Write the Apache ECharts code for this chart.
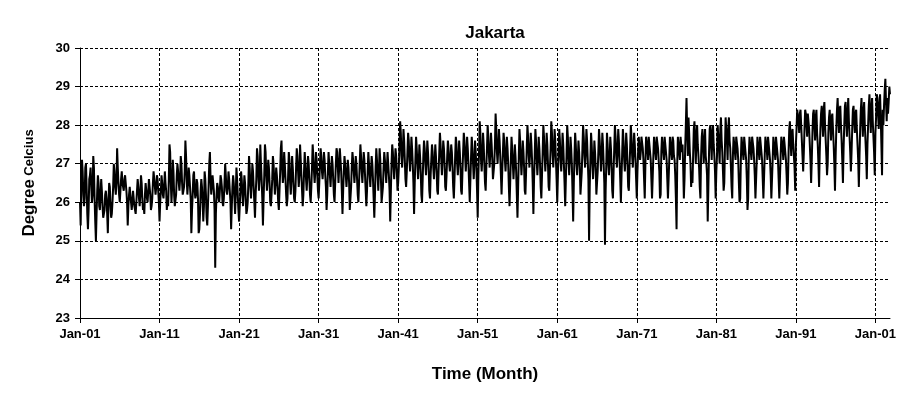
<!DOCTYPE html>
<html>
<head>
<meta charset="utf-8">
<script src="https://cdn.jsdelivr.net/npm/echarts@6/dist/echarts.min.js"></script>
<style>html,body{margin:0;padding:0;background:#fff}#chart{width:914px;height:410px}</style>
</head>
<body>
<div id="chart"></div>
<script>
// 月平均气温 (°C), 1901年1月 起, 每行一年
var temps = [
26.0,25.4,26.5,27.1,26.8,26.2,25.9,26.1,26.9,27.0,26.4,25.7,
25.3,25.8,26.6,26.7,26.9,26.4,26.0,26.2,27.2,26.9,26.1,25.5,
25.0,25.7,26.3,26.7,26.5,25.9,25.8,26.2,26.6,26.3,25.9,25.6,
25.6,25.8,26.2,26.3,26.1,25.7,25.2,26.0,26.5,26.4,25.9,25.6,
25.7,26.0,26.4,27.0,26.8,26.4,26.2,26.5,27.4,26.9,26.5,26.2,
26.0,26.3,26.6,26.8,26.5,26.4,26.3,26.6,26.7,26.5,26.3,26.0,
25.4,25.9,26.2,26.4,26.2,26.0,25.8,26.0,26.3,26.1,25.9,25.9,
25.7,26.0,26.3,26.6,26.4,26.1,25.9,26.2,26.7,26.5,26.1,25.8,
25.9,25.7,26.2,26.5,26.3,26.1,26.0,26.3,26.6,26.4,26.2,25.8,
25.9,26.1,26.5,26.8,26.6,26.4,26.2,26.4,26.7,26.6,26.3,26.0,
25.5,26.0,26.3,26.7,26.5,26.2,26.1,26.4,26.8,26.5,26.3,25.8,
26.1,25.9,26.6,27.5,27.3,26.5,26.0,26.4,27.1,26.8,26.2,25.9,
25.9,26.2,26.7,27.0,26.8,26.5,26.3,26.6,27.2,27.0,26.5,26.2,
26.3,26.4,26.8,27.6,27.2,26.6,26.2,26.5,26.9,26.7,26.4,26.1,
25.2,25.8,26.2,26.7,26.8,26.3,26.1,26.2,26.6,26.5,26.1,25.2,
25.3,25.7,26.3,26.6,26.4,26.0,25.5,25.9,26.8,26.6,26.2,25.6,
25.4,25.9,26.4,27.0,27.3,26.6,26.2,26.4,26.7,26.5,26.3,25.8,
24.3,25.7,26.2,26.5,26.4,26.1,26.0,26.3,26.7,26.6,26.4,26.0,
25.9,26.1,26.5,27.0,26.7,26.3,26.2,26.4,26.8,26.6,26.3,26.0,
25.3,25.9,26.4,26.7,26.5,26.1,25.7,26.2,26.9,26.6,26.2,25.8,
25.5,25.9,26.3,26.8,26.6,26.2,25.9,26.3,26.7,26.5,26.1,25.7,
25.8,26.0,26.5,27.2,26.9,26.4,26.1,26.5,27.0,26.8,26.4,26.0,
25.6,26.2,26.6,27.4,27.2,26.7,26.3,26.6,27.5,27.0,26.6,26.1,
25.4,26.1,26.7,27.5,27.3,26.7,26.3,26.6,27.1,26.9,26.5,26.0,
25.9,26.2,26.6,27.2,27.0,26.6,26.2,26.5,26.9,26.7,26.4,26.0,
25.8,26.3,26.8,27.4,27.6,26.9,26.5,26.7,27.3,27.0,26.6,26.2,
25.9,26.1,26.7,27.3,27.1,26.5,26.2,26.6,27.2,26.9,26.5,26.1,
26.0,26.3,26.9,27.4,27.2,26.8,26.4,26.7,27.5,27.1,26.7,26.3,
25.9,26.2,26.8,27.3,27.0,26.6,26.3,26.7,27.2,27.0,26.6,26.2,
26.0,26.4,26.9,27.5,27.2,26.8,26.5,26.8,27.3,27.1,26.7,26.3,
26.1,26.5,27.0,27.4,27.2,26.8,26.6,26.9,27.3,27.1,26.7,26.4,
25.8,26.2,26.8,27.3,27.0,26.7,26.4,26.8,27.2,27.0,26.6,26.2,
26.0,26.5,27.0,27.4,27.3,26.9,26.5,26.9,27.4,27.1,26.8,26.3,
25.7,26.3,26.8,27.2,27.0,26.7,26.4,26.7,27.1,26.9,26.5,25.8,
26.1,26.4,26.9,27.3,27.1,26.8,26.5,26.8,27.2,27.0,26.6,26.2,
26.0,26.5,27.0,27.5,27.2,26.8,26.5,26.9,27.3,27.1,26.7,26.3,
25.9,26.3,26.8,27.3,27.0,26.7,26.4,26.8,27.2,27.0,26.6,26.1,
25.6,26.2,26.9,27.4,27.1,26.7,26.3,26.8,27.4,27.1,26.6,26.0,
26.0,26.4,26.9,27.3,27.1,26.8,26.5,26.9,27.3,27.0,26.7,26.3,
25.5,26.3,27.0,27.5,27.3,26.9,26.6,27.0,27.4,27.2,26.8,26.3,
26.5,26.9,27.5,28.1,27.8,27.2,26.9,27.3,27.9,27.6,27.1,26.6,
26.4,26.8,27.3,27.8,27.6,27.1,26.8,27.2,27.7,27.4,27.0,26.5,
25.7,26.5,27.1,27.7,27.4,27.0,26.6,27.0,27.5,27.2,26.8,26.2,
26.0,26.6,27.2,27.6,27.4,27.0,26.7,27.1,27.6,27.3,26.9,26.3,
26.1,26.7,27.1,27.5,27.3,26.9,26.6,27.0,27.5,27.2,26.8,26.3,
26.2,26.8,27.3,27.8,27.5,27.1,26.7,27.1,27.6,27.4,27.0,26.4,
26.3,26.7,27.2,27.6,27.4,27.0,26.8,27.1,27.5,27.3,26.9,26.4,
26.1,26.6,27.2,27.7,27.5,27.0,26.7,27.1,27.6,27.3,26.9,26.3,
26.2,26.8,27.3,27.8,27.6,27.2,26.8,27.2,27.7,27.4,27.0,26.5,
26.0,26.6,27.2,27.7,27.4,27.0,26.6,27.0,27.6,27.3,26.9,26.3,
25.6,26.7,27.3,28.1,27.8,27.1,26.8,27.2,27.8,27.5,27.0,26.5,
26.3,26.9,27.4,28.0,27.7,27.2,26.9,27.3,27.8,27.5,27.1,26.6,
26.6,27.0,27.5,28.3,27.9,27.3,27.0,27.4,27.9,27.6,27.2,26.7,
26.2,26.8,27.3,27.8,27.6,27.1,26.8,27.2,27.7,27.4,27.0,26.4,
25.9,26.5,27.1,27.7,27.4,27.0,26.6,27.0,27.5,27.2,26.8,26.2,
25.6,26.4,27.2,27.9,27.6,27.1,26.7,27.1,27.6,27.3,26.9,26.3,
26.2,26.8,27.4,28.0,27.7,27.2,26.9,27.3,27.8,27.5,27.1,26.5,
25.7,26.6,27.2,27.9,27.6,27.1,26.7,27.1,27.7,27.4,27.0,26.4,
26.1,26.7,27.3,28.0,27.7,27.2,26.8,27.2,27.8,27.5,27.0,26.4,
26.3,26.9,27.4,28.1,27.8,27.3,26.9,27.3,27.9,27.6,27.1,26.6,
26.0,26.7,27.3,27.9,27.6,27.1,26.8,27.2,27.8,27.5,27.0,26.5,
25.9,26.6,27.2,28.0,27.7,27.1,26.7,27.1,27.7,27.4,27.0,26.3,
25.5,26.5,27.2,27.8,27.5,27.0,26.7,27.1,27.6,27.3,26.9,26.2,
26.2,26.8,27.4,28.0,27.7,27.2,26.9,27.3,27.9,27.6,27.1,26.6,
25.0,26.4,27.1,27.8,27.5,27.0,26.6,27.0,27.6,27.3,26.9,26.2,
26.2,26.8,27.3,27.9,27.6,27.2,26.8,27.2,27.8,27.5,27.0,26.5,
24.9,26.3,27.0,27.8,27.5,27.0,26.7,27.1,27.7,27.4,26.9,26.3,
26.1,26.8,27.4,28.0,27.7,27.2,26.9,27.3,27.9,27.6,27.1,26.6,
26.0,26.7,27.3,27.9,27.6,27.1,26.8,27.2,27.8,27.5,27.0,26.4,
26.3,26.9,27.4,28.0,27.7,27.2,26.9,27.3,27.8,27.5,27.1,26.6,
26.1,26.8,27.3,27.7,27.7,27.1,27.3,27.7,27.7,27.4,27.1,26.6,
26.1,27.0,27.7,27.7,27.4,27.1,27.7,27.7,27.3,27.1,26.6,26.1,
26.1,27.2,27.7,27.7,27.3,27.1,27.7,27.7,27.4,27.1,26.8,26.1,
26.2,27.3,27.7,27.7,27.3,27.1,27.7,27.7,27.3,27.1,26.6,26.1,
26.1,27.1,27.7,27.5,27.3,27.1,27.7,27.6,27.2,27.1,26.7,26.1,
25.3,27.0,27.7,27.7,27.3,27.1,27.7,27.7,27.3,27.5,26.9,26.1,
26.6,27.4,28.0,28.7,27.9,27.2,28.2,27.8,27.3,27.0,26.4,26.8,
26.5,27.2,27.9,28.1,27.6,27.0,27.7,28.0,27.5,27.2,26.9,26.4,
26.1,27.2,27.7,27.9,27.4,27.0,27.6,27.9,27.2,27.0,26.7,25.5,
26.4,27.3,27.9,28.0,27.5,27.1,27.8,28.0,27.5,27.2,26.8,26.1,
26.8,27.2,28.0,27.7,27.4,27.0,27.9,28.2,27.6,27.3,26.8,26.3,
26.5,27.4,28.2,27.9,27.6,27.1,27.9,28.2,27.6,27.4,26.9,26.4,
26.1,27.2,27.7,27.7,27.3,27.1,27.7,27.7,27.4,27.1,26.5,26.0,
26.1,27.1,27.7,27.7,27.3,27.1,27.7,27.7,27.3,27.1,26.6,25.8,
26.1,27.2,27.7,27.7,27.3,27.1,27.7,27.7,27.4,27.1,26.7,26.1,
26.1,27.1,27.7,27.7,27.3,27.1,27.7,27.7,27.3,27.1,26.6,26.1,
26.1,27.2,27.7,27.7,27.4,27.1,27.7,27.7,27.3,27.1,26.7,26.1,
26.1,27.1,27.7,27.7,27.3,27.1,27.7,27.7,27.3,27.1,26.6,26.1,
26.1,27.2,27.7,27.7,27.4,27.1,27.7,27.7,27.3,27.1,26.7,26.2,
26.5,27.3,27.9,28.1,27.6,27.2,27.8,27.9,27.5,27.2,26.9,26.3,
27.5,27.9,28.4,28.4,28.1,27.8,28.3,28.4,28.0,27.6,27.2,26.8,
27.3,27.9,28.4,28.3,28.0,27.7,28.3,28.3,27.9,27.5,27.1,26.5,
27.1,27.8,28.3,28.4,28.0,27.6,28.2,28.4,27.8,27.5,27.0,26.4,
27.3,27.9,28.3,28.5,28.1,27.7,28.4,28.6,28.0,27.6,27.2,26.7,
27.0,27.8,28.2,28.4,28.0,27.6,28.2,28.3,27.9,27.5,27.0,26.3,
27.2,27.9,28.4,28.7,28.2,27.8,28.4,28.5,28.0,27.6,27.1,26.5,
27.4,28.0,28.5,28.6,28.1,27.7,28.3,28.7,28.1,27.7,27.3,26.8,
27.3,27.9,28.4,28.5,28.1,27.8,28.3,28.4,27.9,27.5,27.1,26.4,
27.2,27.9,28.4,28.7,28.2,27.7,28.3,28.6,28.0,27.6,27.2,26.6,
27.5,28.0,28.5,28.8,28.3,27.8,28.4,28.7,28.1,27.7,27.3,26.7,
27.8,28.2,28.8,28.7,28.3,27.9,28.5,28.8,28.2,27.5,26.7,28.4,
28.0,28.5,28.9,29.2,28.6,28.1,28.7,28.3,28.6,29.0,28.8
];
var startYear = 1901;
var monthNames = ['Jan','Feb','Mar','Apr','May','Jun','Jul','Aug','Sep','Oct','Nov','Dec'];

var categories = [];
for (var i = 0; i < temps.length; i++) {
  var y = startYear + Math.floor(i / 12);
  categories.push(monthNames[i % 12] + '-' + String(y % 100).padStart(2, '0'));
}

var font = '"Liberation Sans", Arial, sans-serif';
var chart = echarts.init(document.getElementById('chart'));
chart.setOption({
  animation: false,
  title: {
    text: 'Jakarta', left: 490, top: 20, textAlign: 'center',
    textStyle: { fontFamily: font, fontSize: 17, fontWeight: 'bold', color: '#000' }
  },
  grid: { left: 80, right: 24, top: 48, bottom: 92 },
  xAxis: {
    type: 'category',
    data: categories,
    boundaryGap: false,
    name: 'Time (Month)',
    nameLocation: 'middle',
    nameGap: 48,
    nameTextStyle: { fontFamily: font, fontSize: 17, fontWeight: 'bold', color: '#000' },
    axisLine: { lineStyle: { color: '#000', width: 1 } },
    axisTick: { show: true, interval: 119, inside: false, lineStyle: { color: '#000' } },
    axisLabel: { interval: 119, fontFamily: font, fontSize: 13, fontWeight: 'bold', color: '#000', margin: 10 },
    splitLine: { show: true, interval: 119, lineStyle: { color: '#000', type: [3, 2], width: 1 } }
  },
  yAxis: {
    type: 'value',
    min: 23, max: 30, interval: 1,
    name: '{a|Degree} {b|Celcius}',
    nameLocation: 'middle',
    nameGap: 42,
    nameRotate: 90,
    nameTextStyle: {
      fontFamily: font, color: '#000',
      rich: {
        a: { fontFamily: font, fontSize: 17, fontWeight: 'bold', color: '#000' },
        b: { fontFamily: font, fontSize: 13, fontWeight: 'bold', color: '#000' }
      }
    },
    axisLine: { show: true, lineStyle: { color: '#000' } },
    axisTick: { show: true, lineStyle: { color: '#000' } },
    axisLabel: { fontFamily: font, fontSize: 13, fontWeight: 'bold', color: '#000', margin: 10 },
    splitLine: { lineStyle: { color: '#000', type: [3, 2], width: 1 } }
  },
  series: [{
    type: 'line',
    data: temps,
    showSymbol: false,
    lineStyle: { color: '#000', width: 2 }
  }]
});
</script>
</body>
</html>
